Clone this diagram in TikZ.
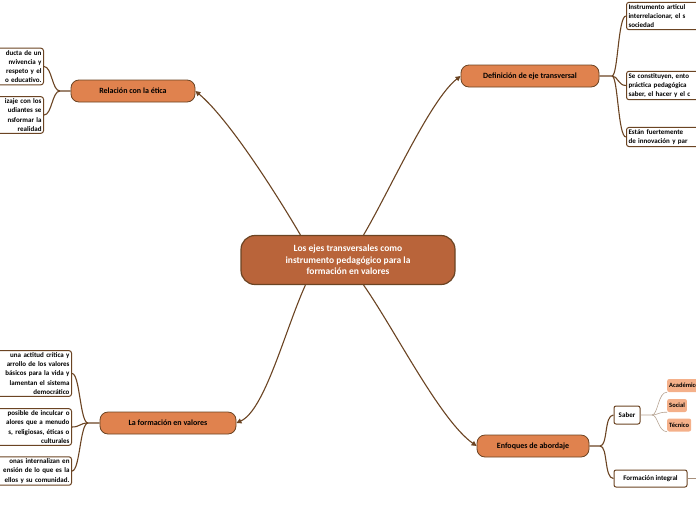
\documentclass[tikz,border=0pt]{standalone}
\usepackage{fontspec}
\setmainfont{Carlito}
\usetikzlibrary{arrows.meta}
\begin{document}
\begin{tikzpicture}[x=1pt,y=-1pt,
  lc/.style={draw=brn,line width=1.1pt},
  topic/.style={draw=brn,line width=0.8pt,fill=org,rounded corners=8pt,font=\bfseries\fontsize{8}{9}\selectfont,inner sep=0pt},
  lbox/.style={draw=brn,line width=1pt,fill=white,rounded corners=2.5pt,font=\bfseries\fontsize{7}{9.2}\selectfont,inner sep=2pt,align=right,anchor=east},
  rbox/.style={draw=brn,line width=1pt,fill=white,rounded corners=2.5pt,font=\bfseries\fontsize{7}{9.2}\selectfont,inner sep=2pt,align=left,anchor=west},
  sbox/.style={fill=sal,rounded corners=2pt,font=\bfseries\fontsize{6.5}{7}\selectfont,inner sep=2pt,anchor=west},
  tipc/.style={-{Triangle[length=5pt,width=5pt]}}]
\definecolor{brn}{HTML}{6B4423}
\definecolor{org}{HTML}{E0824E}
\definecolor{sal}{HTML}{F4B08A}
\definecolor{ctr}{HTML}{B9643A}
\useasboundingbox (0,0) rectangle (696,520);
\clip (0,0) rectangle (696,520);
\node[draw=brn,line width=1.2pt,fill=ctr,rounded corners=14pt,minimum width=214pt,minimum height=49pt,text=white,font=\bfseries\fontsize{9.5}{11.5}\selectfont,align=center] (c) at (348,260) {Los ejes transversales como\\instrumento pedagógico para la\\formación en valores};
\node[topic,minimum width=124pt,minimum height=22pt] (rel) at (133,91) {Relación con la ética};
\node[topic,minimum width=138pt,minimum height=22pt] (def) at (530,76) {Definición de eje transversal};
\node[topic,minimum width=136pt,minimum height=22pt] (for) at (168,423) {La formación en valores};
\node[topic,minimum width=112pt,minimum height=22pt] (enf) at (533,446) {Enfoques de abordaje};
\draw[lc,tipc] (c.north west) ++(60,0) .. controls (280,200) and (230,120) .. (rel.east);
\draw[lc,tipc] (c.north east) ++(-92,0) .. controls (390,190) and (430,100) .. (def.west);
\draw[lc,tipc] (c.south west) ++(65,0) .. controls (285,330) and (265,410) .. (for.east);
\draw[lc,tipc] (c.south east) ++(-92,0) .. controls (395,330) and (440,420) .. (enf.west);
% left boxes
\node[lbox,text width=60pt] (l1) at (44,66.5) {ducta de un\\nvivencia y\\respeto y el\\o educativo.};
\node[lbox,text width=60pt] (l2) at (44,115) {izaje con los\\udiantes se\\nsformar la\\realidad};
\coordinate (fr) at (60,91);
\draw[lc] (rel.west) -- (fr) .. controls (52,91) and (52,66.5) .. (l1.east);
\draw[lc] (fr) .. controls (52,91) and (52,115) .. (l2.east);
\node[lbox,text width=80pt] (l3) at (72,373.5) {una actitud crítica y\\arrollo de los valores\\básicos para la vida y\\lamentan el sistema\\democrático};
\node[lbox,text width=80pt] (l4) at (72,427) {posible de inculcar o\\alores que a menudo\\s, religiosas, éticas o\\culturales};
\node[lbox,text width=80pt] (l5) at (72,471) {onas internalizan en\\ensión de lo que es la\\ellos y su comunidad.};
\coordinate (ff) at (88,423);
\draw[lc] (for.west) -- (ff) .. controls (80,423) and (80,373.5) .. (l3.east);
\draw[lc] (ff) .. controls (80,423) and (80,427) .. (l4.east);
\draw[lc] (ff) .. controls (80,423) and (80,471) .. (l5.east);
% right boxes
\node[rbox,text width=90pt] (r1) at (626,16) {Instrumento articul\\interrelacionar, el s\\sociedad};
\node[rbox,text width=90pt] (r2) at (626,85.5) {Se constituyen, ento\\práctica pedagógica\\saber, el hacer y el c};
\node[rbox,text width=90pt] (r3) at (626,137) {Están fuertemente\\de innovación y par};
\coordinate (fd) at (612,76);
\draw[lc] (def.east) -- (fd) .. controls (618,76) and (618,16) .. (r1.west);
\draw[lc] (fd) .. controls (618,76) and (618,85.5) .. (r2.west);
\draw[lc] (fd) .. controls (618,76) and (618,137) .. (r3.west);
% enfoques
\node[draw=brn,line width=1pt,fill=white,rounded corners=2pt,font=\bfseries\fontsize{7}{8}\selectfont,minimum width=26pt,minimum height=18pt,inner sep=1pt] (sab) at (627,415) {Saber};
\node[draw=brn,line width=1pt,fill=white,rounded corners=2pt,font=\bfseries\fontsize{7}{8}\selectfont,minimum width=73pt,minimum height=17pt,inner sep=1pt] (fi) at (650.5,478.5) {Formación integral};
\coordinate (fe) at (600,446);
\draw[lc] (enf.east) -- (fe) .. controls (608,446) and (604,415) .. (sab.west);
\draw[lc] (fe) .. controls (608,446) and (604,478.5) .. (fi.west);
\draw[lc,line width=0.6pt,draw=brn!60] (fi.east) -- (700,478.5);
\node[sbox,minimum height=13pt] (s1) at (667,385.5) {Académico};
\node[sbox,minimum height=13pt] (s2) at (667,405.5) {Social};
\node[sbox,minimum height=13pt] (s3) at (667,425) {Técnico};
\coordinate (fs) at (652,415);
\draw[line width=0.6pt,draw=brn!50] (sab.east) -- (fs) .. controls (658,415) and (658,392) .. (s1.south west);
\draw[line width=0.6pt,draw=brn!50] (fs) .. controls (658,415) and (658,412) .. (s2.south west);
\draw[line width=0.6pt,draw=brn!50] (fs) .. controls (658,415) and (658,431.5) .. (s3.south west);
\end{tikzpicture}
\end{document}
